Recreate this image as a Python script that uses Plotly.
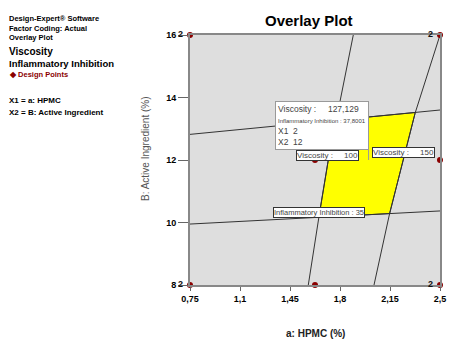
import plotly.graph_objects as go

# ---- data ----
x_ticks = [0.75, 1.1, 1.45, 1.8, 2.15, 2.5]
x_tick_text = ["0,75", "1,1", "1,45", "1,8", "2,15", "2,5"]
y_ticks = [8, 10, 12, 14, 16]
y_tick_text = ["8", "10", "12", "14", "16"]

# contour lines (HPMC, Active Ingredient)
visc100_x = [1.893, 1.80, 1.718, 1.66, 1.578]
visc100_y = [16.0, 13.92, 12.0, 10.4, 8.0]
visc150_x = [2.5, 2.325, 2.145, 2.038]
visc150_y = [16.0, 13.49, 10.24, 8.0]
infl_hi_x = [0.75, 2.5]
infl_hi_y = [12.82, 13.60]
infl35_x = [0.75, 2.5]
infl35_y = [9.95, 10.37]

# feasible (yellow) region
region_x = [1.652, 1.66, 1.718, 1.772, 2.327, 2.147, 1.652]
region_y = [10.166, 10.4, 12.0, 13.275, 13.52, 10.285, 10.166]

# design points
dp_x = [0.75, 2.5, 0.75, 2.5, 1.625, 2.5, 1.625]
dp_y = [16, 16, 8, 8, 12, 12, 8]
dp_count = ["2", "2", "2", "2", "", "", ""]

# contour labels
lab_text = ["Viscosity :\u00a0\u00a0\u00a0\u00a0\u00a0100", "Viscosity :\u00a0\u00a0\u00a0\u00a0\u00a0150",
            "Inflammatory Inhibition : 35"]
lab_size = [8, 8, 7.5]
lab_x = [1.709, 2.241, 1.6495]
lab_y = [12.14, 12.25, 10.33]

# flag
flag_x = 2
flag_y = 12
flag_visc = "127,129"
flag_infl = "37,8001"

FONT = "Liberation Sans, Arial, sans-serif"
LINE = "#333333"

# plot area in page pixels (page has an 8px body margin)
PL, PR, PT, PB = 190, 440, 35, 285
OFF = 8
W, H = 474 - OFF, 355 - OFF
PW, PH = PR - PL, PB - PT

fig = go.Figure()

fig.add_trace(go.Scatter(x=region_x, y=region_y, mode="lines", fill="toself",
                         fillcolor="#FFFF00", line=dict(color=LINE, width=1),
                         hoverinfo="skip", showlegend=False))
for lx, ly in [(visc100_x, visc100_y), (visc150_x, visc150_y),
               (infl_hi_x, infl_hi_y), (infl35_x, infl35_y)]:
    fig.add_trace(go.Scatter(x=lx, y=ly, mode="lines",
                             line=dict(color=LINE, width=1),
                             hoverinfo="skip", showlegend=False))

# flag stem
fig.add_trace(go.Scatter(x=[flag_x, flag_x], y=[flag_y, flag_y + 0.33], mode="lines",
                         line=dict(color="#999999", width=1),
                         hoverinfo="skip", showlegend=False))

fig.add_trace(go.Scatter(x=dp_x, y=dp_y, mode="markers",
                         marker=dict(color="#8B0000", size=6),
                         cliponaxis=False, hoverinfo="skip", showlegend=False))

for px, py, c in zip(dp_x, dp_y, dp_count):
    if c:
        fig.add_annotation(x=px, y=py, text="<b>" + c + "</b>", showarrow=False,
                           xanchor="right", xshift=-5, yshift=1,
                           font=dict(family=FONT, size=9, color="#111111"))

for t, lx, ly, s in zip(lab_text, lab_x, lab_y, lab_size):
    fig.add_annotation(x=lx, y=ly, text=t, showarrow=False,
                       bgcolor="white", bordercolor="#333333", borderwidth=1, borderpad=0,
                       font=dict(family=FONT, size=s, color="#444444"))

flag_text = ("Viscosity :\u00a0\u00a0\u00a0\u00a0\u00a0" + flag_visc +
             "<br><span style='font-size:6px'>Inflammatory Inhibition : " + flag_infl + "</span>" +
             "<br>X1\u00a0\u00a02<br>X2\u00a0\u00a012")
fig.add_annotation(x=flag_x, y=flag_y, text=flag_text, showarrow=False,
                   xanchor="right", yanchor="bottom", yshift=10, align="left",
                   bgcolor="white", bordercolor="#999999", borderwidth=1, borderpad=2,
                   font=dict(family=FONT, size=8.5, color="#444444"))


def px2paper(xp, yp):
    return (xp - PL) / PW, (PB - yp) / PH


# title and left-hand text
tx, ty = px2paper(309, 21)
fig.add_annotation(xref="paper", yref="paper", x=tx, y=ty, xanchor="center", yanchor="middle",
                   text="<b>Overlay Plot</b>", showarrow=False,
                   font=dict(family=FONT, size=15, color="black"))

left_lines = [
    ("<b>Design-Expert® Software</b>", 19, 7.5, "black"),
    ("<b>Factor Coding: Actual</b>", 28.5, 7.5, "black"),
    ("<b>Overlay Plot</b>", 37.5, 7.5, "black"),
    ("<b>Viscosity</b>", 52, 10, "black"),
    ("<b>Inflammatory Inhibition</b>", 63.5, 9.5, "black"),
    ("<b>\u25c6 Design Points</b>", 74.5, 7.5, "#8B0000"),
    ("<b>X1 = a: HPMC</b>", 100.5, 8, "black"),
    ("<b>X2 = B: Active Ingredient</b>", 112, 8, "black"),
]
for txt, ypx, sz, col in left_lines:
    lx, ly = px2paper(7, ypx)
    fig.add_annotation(xref="paper", yref="paper", x=lx, xanchor="left",
                       y=ly, yanchor="middle", text=txt, showarrow=False,
                       font=dict(family=FONT, size=sz, color=col))

ax_, ay_ = px2paper(145, 149)
fig.add_annotation(xref="paper", yref="paper", x=ax_, y=ay_, xanchor="center", yanchor="middle",
                   text="B: Active Ingredient (%)", textangle=-90, showarrow=False,
                   font=dict(family=FONT, size=10, color="#555555"))
bx_, by_ = px2paper(315, 333)
fig.add_annotation(xref="paper", yref="paper", x=bx_, y=by_, xanchor="center", yanchor="middle",
                   text="<b>a: HPMC (%)</b>", showarrow=False,
                   font=dict(family=FONT, size=10, color="#222222"))

fig.update_layout(
    width=W, height=H,
    margin=dict(l=PL - OFF, r=W - (PR - OFF), t=PT - OFF, b=H - (PB - OFF)),
    paper_bgcolor="white", plot_bgcolor="#DEDEDE",
    showlegend=False,
    xaxis=dict(range=[0.75, 2.5], tickvals=x_ticks, ticktext=x_tick_text,
               showgrid=False, zeroline=False, showline=True, mirror=True,
               linecolor="#888888", linewidth=2, ticks="outside", ticklen=4,
               tickcolor="#666666", tickwidth=1,
               tickfont=dict(family=FONT, size=9, color="black", weight="bold")),
    yaxis=dict(range=[8, 16], tickvals=y_ticks, ticktext=y_tick_text,
               showgrid=False, zeroline=False, showline=True, mirror=True,
               linecolor="#888888", linewidth=2, ticks="outside", ticklen=10,
               tickcolor="#666666", tickwidth=1,
               tickfont=dict(family=FONT, size=9, color="black", weight="bold")),
)

fig.write_html("out.html")
